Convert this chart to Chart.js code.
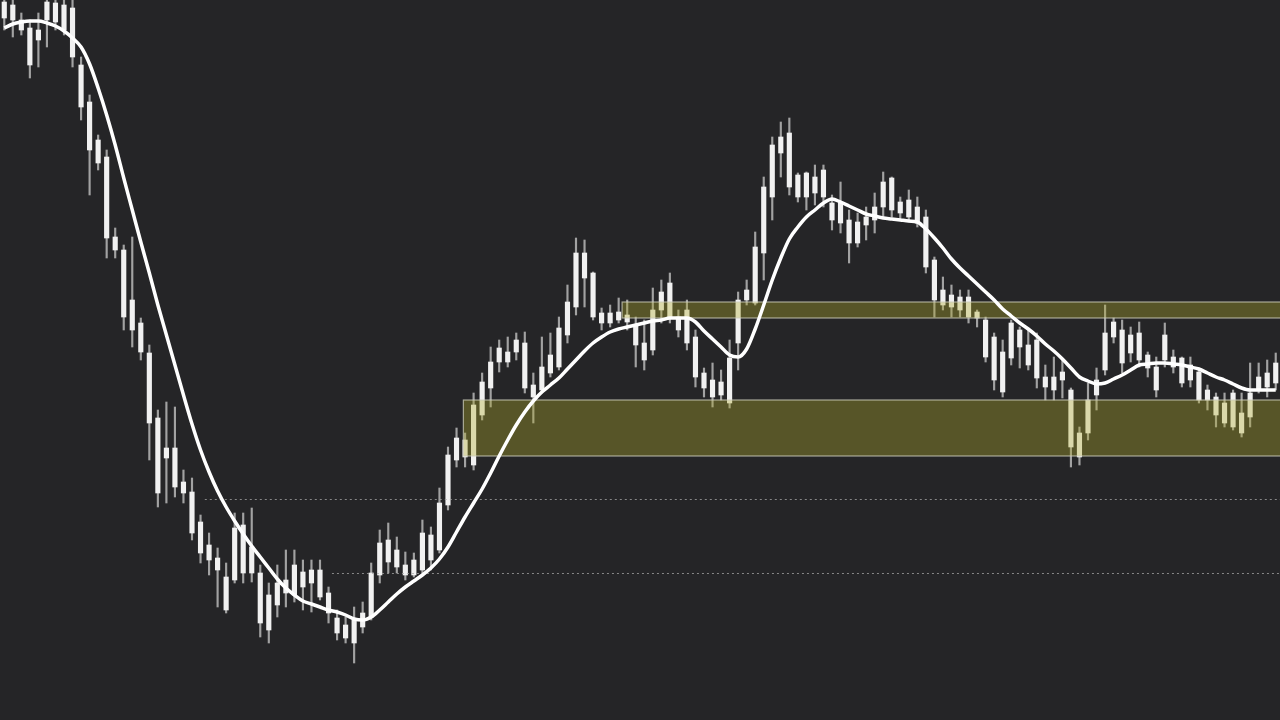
<!DOCTYPE html>
<html>
<head>
<meta charset="utf-8">
<script src="https://cdn.jsdelivr.net/npm/chart.js@4"></script>
<style>
  html, body { margin: 0; padding: 0; background: #252527; }
  #wrap { width: 1280px; height: 720px; position: relative; }
</style>
</head>
<body>
<div id="wrap"><canvas id="myChart"></canvas></div>
<script>
// candles (price units, higher = up)
const open = [718,700,700,692,680,700,717,690,712,655,618,580,563,470,470,420,397,367,302,262,
  272,238,228,198,175,162,143,140,195,147,147,125,115,140,125,148,137,150,127,102,
  95,100,93,103,145,180,170,155,145,150,185,170,215,260,280,255,305,332,358,368,
  368,377,335,330,347,353,385,413,467,447,407,397,400,405,395,377,370,410,403,403,
  377,383,347,340,325,317,377,420,417,467,523,567,587,545,523,543,523,517,497,500,
  498,495,500,513,542,518,503,513,503,460,430,413,423,423,402,400,383,368,362,390,
  375,380,343,330,348,330,287,287,325,350,383,390,367,360,365,353,360,363,362,340,
  348,330,323,317,293,307,303,330,347,337];
const close = [702,715,690,655,690,718,698,715,663,613,570,557,482,483,403,390,368,297,227,272,
  233,227,187,167,160,150,110,192,147,173,97,90,137,127,155,133,150,123,107,87,
  82,77,107,147,177,158,153,145,160,187,160,217,265,282,263,315,338,358,372,358,
  380,332,323,353,365,392,418,467,442,403,397,407,408,398,375,360,410,428,437,390,
  410,343,332,323,338,362,420,430,473,533,575,583,533,523,547,527,550,500,517,477,
  477,503,513,538,510,507,520,497,453,420,415,425,410,403,408,363,340,328,397,373,
  355,342,333,343,340,273,263,320,340,387,398,357,385,387,352,330,385,353,337,355,
  320,320,305,297,327,287,327,343,333,357];
const high = [720,720,707,700,707,720,720,720,720,663,625,585,570,492,475,483,402,375,310,318,
  313,250,242,205,187,172,157,207,207,212,155,137,155,170,170,160,160,160,133,110,
  103,113,118,157,190,197,183,168,167,200,193,232,273,292,287,327,347,373,380,383,
  387,388,347,383,387,403,435,482,480,448,412,415,422,420,403,400,432,440,447,410,
  420,390,352,357,350,380,428,440,488,543,583,598,602,547,548,555,555,525,538,510,
  507,513,527,548,543,523,530,523,510,463,443,435,430,430,410,403,387,380,400,393,
  390,387,355,363,360,332,293,337,352,415,402,400,393,398,368,363,397,370,363,363,
  350,335,327,327,330,327,357,357,360,367];
const low = [690,683,685,642,653,673,690,685,653,600,525,550,462,462,390,373,360,260,213,217,
  223,217,180,157,145,113,107,137,137,138,83,77,103,113,118,110,108,120,97,80,
  77,57,87,100,137,147,147,140,143,147,150,167,210,253,253,250,300,313,348,353,
  360,327,297,327,343,350,377,405,413,400,390,393,397,390,353,350,365,397,397,383,
  370,333,323,313,320,312,350,415,415,440,500,543,525,518,510,515,513,490,487,457,
  473,480,487,503,503,500,498,493,447,403,410,403,403,397,393,358,330,323,355,352,
  350,332,320,320,322,253,255,280,310,345,377,347,358,353,343,323,353,347,333,333,
  317,310,293,293,290,283,293,327,323,330];

// smoothed moving average drawn over the candles
const ma = [692,696,698,699,699,697,694,689,682,673,656,632,605,575,542,510,478,447,415,385,
  355,325,296,270,248,229,213,199,186,174,163,152,141,132,125,119,116,113,110,108,
  105,101,100,103,110,118,126,133,139,145,152,161,173,188,203,217,231,247,264,280,
  295,308,319,328,335,342,351,360,369,377,383,388,391,393,395,397,399,400,402,402,
  402,398,389,381,373,365,363,371,391,415,440,462,481,493,503,510,517,521,518,514,
  510,506,504,502,501,500,499,498,491,482,472,461,452,444,436,428,420,411,404,397,
  391,384,376,369,361,352,343,339,336,337,341,345,350,355,356,357,357,356,355,353,
  351,347,343,340,336,332,330,330,330,330];

// supply / demand zones: start candle, upper and lower price
const zoneStart = [72.4, 53.8];
const zoneTop = [418, 320];
const zoneBottom = [402, 264];

// dotted horizontal levels: start candle and price
const levelStart = [23.5, 38.4];
const levelPrice = [221, 147];

const labels = open.map((_, i) => 'C' + (i + 1));

const zonesPlugin = {
  id: 'zones',
  beforeDatasetDraw(chart, args) {
    if (args.meta.type !== 'line') return;
    const ctx = chart.ctx;
    const x = chart.scales.x;
    const y = chart.scales.y;
    const right = chart.chartArea.right + 10;
    ctx.save();
    // dotted levels
    ctx.setLineDash([2, 3]);
    ctx.strokeStyle = 'rgba(170,170,170,0.75)';
    ctx.lineWidth = 1;
    for (let i = 0; i < levelPrice.length; i++) {
      const py = Math.round(y.getPixelForValue(levelPrice[i])) + 0.5;
      ctx.beginPath();
      ctx.moveTo(x.getPixelForValue(levelStart[i]), py);
      ctx.lineTo(right, py);
      ctx.stroke();
    }
    ctx.setLineDash([]);
    // zones
    for (let i = 0; i < zoneStart.length; i++) {
      const x0 = x.getPixelForValue(zoneStart[i]);
      const y0 = y.getPixelForValue(zoneTop[i]);
      const y1 = y.getPixelForValue(zoneBottom[i]);
      ctx.fillStyle = 'rgba(178,172,45,0.36)';
      ctx.fillRect(x0, y0, right - x0, y1 - y0);
      ctx.strokeStyle = 'rgba(205,205,190,0.75)';
      ctx.lineWidth = 1.2;
      ctx.strokeRect(x0, y0, right - x0, y1 - y0);
    }
    ctx.restore();
  }
};

new Chart(document.getElementById('myChart'), {
  type: 'bar',
  data: {
    labels: labels,
    datasets: [
      {
        label: 'wick',
        data: low.map((l, i) => [l, high[i]]),
        backgroundColor: '#a2a2a2',
        barThickness: 1.5,
        grouped: false,
        order: 3
      },
      {
        label: 'body',
        data: open.map((o, i) => [o, close[i]]),
        backgroundColor: '#f1f1f1',
        barThickness: 4.5,
        grouped: false,
        order: 2
      },
      {
        type: 'line',
        label: 'MA',
        data: ma,
        borderColor: '#ffffff',
        borderWidth: 3.5,
        pointRadius: 0,
        cubicInterpolationMode: 'monotone',
        order: 1
      }
    ]
  },
  options: {
    responsive: true,
    maintainAspectRatio: false,
    animation: false,
    layout: { padding: 0 },
    plugins: { legend: { display: false }, tooltip: { enabled: false } },
    scales: {
      x: { display: false, offset: true, grid: { display: false } },
      y: { display: false, min: 0, max: 720, grid: { display: false } }
    }
  },
  plugins: [zonesPlugin]
});
</script>
</body>
</html>
